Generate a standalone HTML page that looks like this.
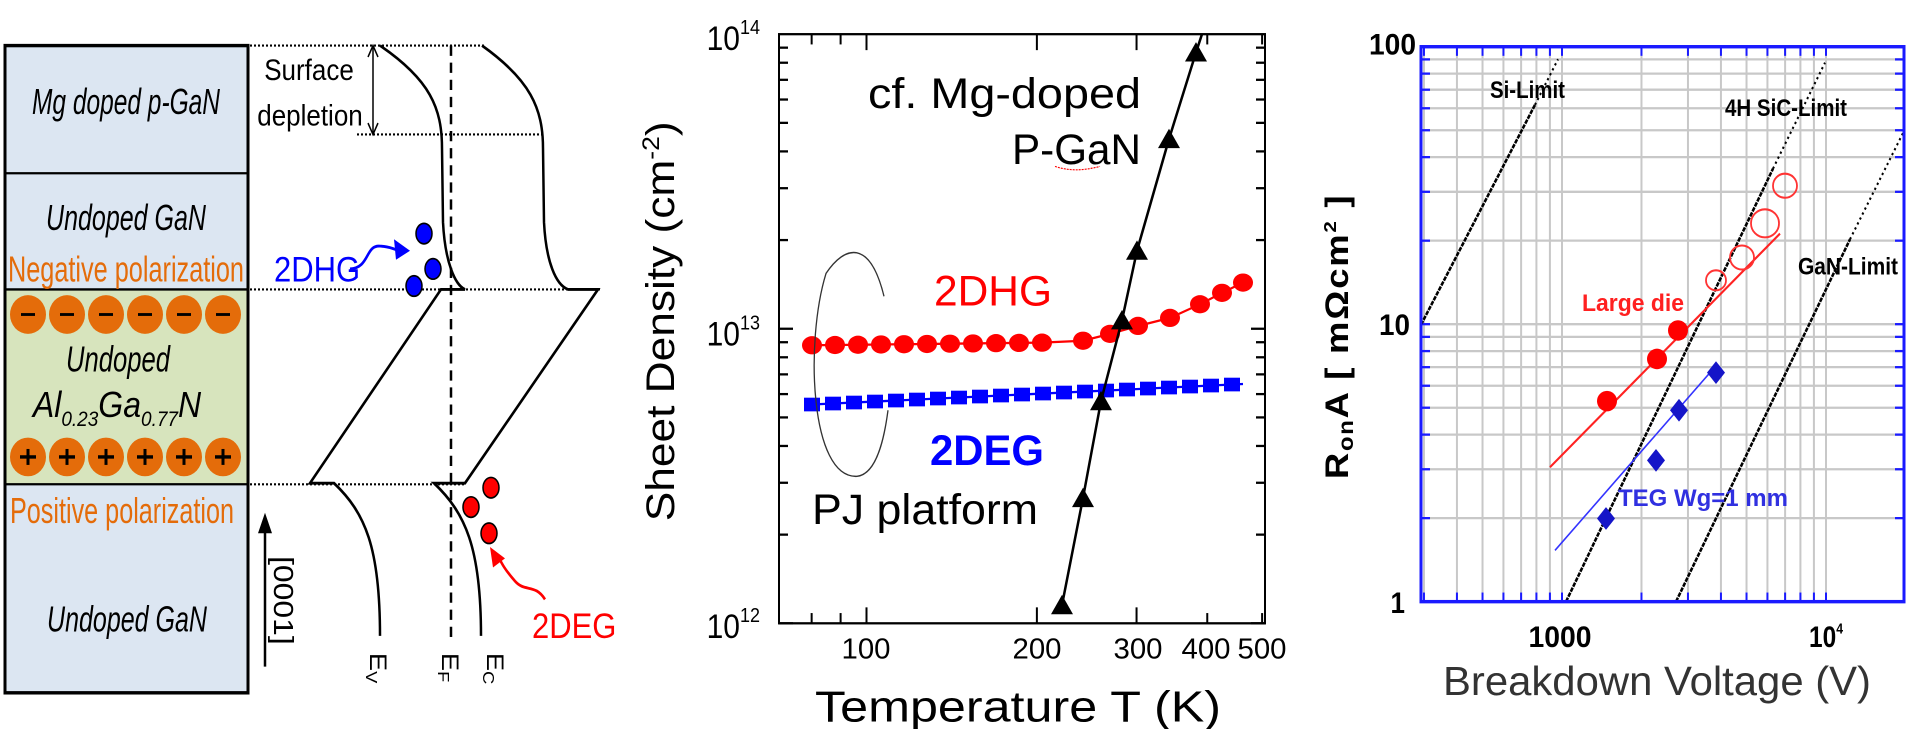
<!DOCTYPE html>
<html><head><meta charset="utf-8"><style>
html,body{margin:0;padding:0;background:#fff;}
svg{display:block;}
.n{font-family:"Liberation Sans Narrow","Liberation Sans",sans-serif;}
.s{font-family:"Liberation Sans","DejaVu Sans",sans-serif;}
</style></head><body>
<svg xmlns="http://www.w3.org/2000/svg" width="1919" height="729" viewBox="0 0 1919 729">
<g transform="scale(1,1.1395)">
<!-- Panel 1 -->
<rect x="5" y="40" width="243" height="112" fill="#dce6f2"/>
<rect x="5" y="152" width="243" height="102" fill="#dce6f2"/>
<rect x="5" y="254" width="243" height="171" fill="#d7e4bd"/>
<rect x="5" y="425" width="243" height="183" fill="#dce6f2"/>
<rect x="5" y="40" width="243" height="568" fill="none" stroke="#000" stroke-width="3"/>
<g stroke="#000" stroke-width="2"><line x1="5" y1="152" x2="248" y2="152"/><line x1="5" y1="254" x2="248" y2="254"/><line x1="5" y1="425" x2="248" y2="425"/></g>
<g class="n" font-style="italic" font-size="32" text-anchor="middle">
<text x="126" y="100" textLength="188" lengthAdjust="spacingAndGlyphs">Mg doped p-GaN</text>
<text x="126" y="202" textLength="160" lengthAdjust="spacingAndGlyphs">Undoped GaN</text>
<text x="118" y="326" textLength="104" lengthAdjust="spacingAndGlyphs">Undoped</text>
<text x="117" y="366">Al<tspan font-size="19" dy="8">0.23</tspan><tspan dy="-8">Ga</tspan><tspan font-size="19" dy="8">0.77</tspan><tspan dy="-8">N</tspan></text>
<text x="127" y="554" textLength="160" lengthAdjust="spacingAndGlyphs">Undoped GaN</text>
</g>
<g class="n" font-size="32" fill="#e46c0a">
<text x="8" y="247" textLength="236" lengthAdjust="spacingAndGlyphs">Negative polarization</text>
<text x="10" y="459" textLength="224" lengthAdjust="spacingAndGlyphs">Positive polarization</text>
</g>
<g id="circ"></g>
<g stroke="#000" stroke-width="1.8" stroke-dasharray="2,2" fill="none">
<line x1="250" y1="40" x2="485" y2="40"/><line x1="357" y1="118" x2="545" y2="118"/>
<line x1="250" y1="254" x2="600" y2="254"/><line x1="250" y1="425" x2="465" y2="425"/>
</g>
<line x1="451" y1="40" x2="451" y2="562" stroke="#000" stroke-width="2.5" stroke-dasharray="9,6"/>
<g stroke="#000" stroke-width="2.5" fill="none">
<path d="M380 40 C430 70 442 95 442 130 L443 195 C445 230 455 250 465 254 L441 254 L310 424 L334 424 C365 450 380 480 380 558"/>
<path d="M482 40 C530 70 543 95 543 130 L544 195 C546 230 556 250 568 254 L598 254 L465 424 L434 424 C465 450 481 480 481 558"/>
</g>
<path d="M373 40 L373 118" stroke="#000" stroke-width="1.5"/>
<path d="M368 50 L373 40 L378 50 M368 108 L373 118 L378 108" stroke="#000" stroke-width="1.5" fill="none"/>
<g class="n" font-size="26" text-anchor="middle"><text x="309" y="70">Surface</text><text x="310" y="110">depletion</text></g>
<g fill="#0000ff" stroke="#000" stroke-width="1.5"><ellipse cx="424" cy="205" rx="8" ry="9"/><ellipse cx="433" cy="236" rx="8" ry="9"/><ellipse cx="414" cy="251" rx="8" ry="9"/></g>
<g fill="#ff0000" stroke="#000" stroke-width="1.5"><ellipse cx="491" cy="428" rx="8" ry="9"/><ellipse cx="471" cy="445" rx="8" ry="9"/><ellipse cx="489" cy="468" rx="8" ry="9"/></g>
<text class="n" x="274" y="247" font-size="31" fill="#0000ff">2DHG</text>
<path d="M350 236 C370 235 365 215 380 216 C388 216 392 218 396 219" stroke="#0000ff" stroke-width="2.5" fill="none"/>
<path d="M394 210 L410 220 L396 228 Z" fill="#0000ff"/>
<text class="n" x="532" y="560" font-size="31" fill="#ff0000">2DEG</text>
<path d="M545 526 C535 512 525 520 515 510 C505 500 502 495 498 488" stroke="#ff0000" stroke-width="2.5" fill="none"/>
<path d="M490 480 L493 498 L505 490 Z" fill="#ff0000"/>
<line x1="265" y1="585" x2="265" y2="465" stroke="#000" stroke-width="2.5"/>
<path d="M258 468 L265 450 L272 468 Z" fill="#000"/>
<text class="n" font-size="28" transform="translate(274,488) rotate(90)">[0001]</text>
<g class="n" font-size="24"><text transform="translate(370,573) rotate(90)">E<tspan font-size="16" dy="4">V</tspan></text>
<text transform="translate(442,573) rotate(90)">E<tspan font-size="16" dy="4">F</tspan></text>
<text transform="translate(487,573) rotate(90)">E<tspan font-size="16" dy="4">C</tspan></text></g>

<!-- Panel 2 -->
<g id="p2"></g>
<rect x="779" y="30" width="486" height="517" fill="none" stroke="#000" stroke-width="2"/>
<g class="s" font-size="30" text-anchor="end"><text x="760" y="44">10<tspan font-size="18" dy="-14">14</tspan></text>
<text x="760" y="303">10<tspan font-size="18" dy="-14">13</tspan></text>
<text x="760" y="560">10<tspan font-size="18" dy="-14">12</tspan></text></g>
<g class="s" font-size="25" text-anchor="middle" lengthAdjust="spacingAndGlyphs"><text x="866" y="578" textLength="49" lengthAdjust="spacingAndGlyphs">100</text><text x="1037" y="578" textLength="49" lengthAdjust="spacingAndGlyphs">200</text><text x="1138" y="578" textLength="49" lengthAdjust="spacingAndGlyphs">300</text><text x="1206" y="578" textLength="49" lengthAdjust="spacingAndGlyphs">400</text><text x="1262" y="578" textLength="49" lengthAdjust="spacingAndGlyphs">500</text></g>
<text class="s" x="1018" y="633" font-size="38" text-anchor="middle" textLength="406" lengthAdjust="spacingAndGlyphs">Temperature T (K)</text>
<text class="s" font-size="40" text-anchor="middle" textLength="351" lengthAdjust="spacingAndGlyphs" transform="translate(674,282) rotate(-90)">Sheet Density (cm<tspan font-size="24" dy="-15">-2</tspan><tspan dy="15">)</tspan></text>
<g class="s" font-size="37"><text x="868" y="95" textLength="273" lengthAdjust="spacingAndGlyphs">cf. Mg-doped</text><text x="1012" y="144" textLength="129" lengthAdjust="spacingAndGlyphs">P-GaN</text>
<text x="934" y="268" fill="#ff0000" textLength="118" lengthAdjust="spacingAndGlyphs">2DHG</text><text x="930" y="408" fill="#0000ff" font-weight="bold" textLength="114" lengthAdjust="spacingAndGlyphs">2DEG</text>
<text x="812" y="460" textLength="226" lengthAdjust="spacingAndGlyphs">PJ platform</text></g>
<path d="M1055 146 q20 6 45 0" stroke="#f00" stroke-width="1" fill="none" stroke-dasharray="2,1"/>
<path d="M884 260 C870 210 845 215 826 240 C805 300 810 420 857 418 C878 416 885 380 888 360" stroke="#333" stroke-width="1.3" fill="none"/>

<!-- Panel 3 -->
<g id="p3"></g>
<rect x="1421" y="41" width="483" height="487" fill="none" stroke="#1a1aff" stroke-width="3"/>
<g class="s" font-size="26" font-weight="bold" text-anchor="end"><text x="1416" y="48" textLength="47" lengthAdjust="spacingAndGlyphs">100</text><text x="1410" y="294" textLength="31" lengthAdjust="spacingAndGlyphs">10</text><text x="1405" y="538">1</text></g>
<g class="s" font-size="26" font-weight="bold" text-anchor="middle"><text x="1560" y="568" textLength="63" lengthAdjust="spacingAndGlyphs">1000</text><text x="1826" y="568" textLength="34" lengthAdjust="spacingAndGlyphs">10<tspan font-size="13" dy="-12">4</tspan></text></g>
<text class="s" x="1657" y="610" font-size="36" text-anchor="middle" fill="#333" textLength="428" lengthAdjust="spacingAndGlyphs">Breakdown Voltage (V)</text>
<text class="s" font-size="32" font-weight="bold" text-anchor="middle" textLength="249" transform="translate(1348,296) rotate(-90)">R<tspan font-size="21" dy="5">on</tspan><tspan dy="-5">A [ mΩcm</tspan><tspan font-size="18" dy="-12">2</tspan><tspan dy="12"> ]</tspan></text>
<g class="s" font-size="21" font-weight="bold"><text x="1490" y="86" textLength="75" lengthAdjust="spacingAndGlyphs">Si-Limit</text><text x="1725" y="102" textLength="122" lengthAdjust="spacingAndGlyphs">4H SiC-Limit</text><text x="1798" y="241" textLength="100" lengthAdjust="spacingAndGlyphs">GaN-Limit</text>
<text x="1582" y="273" fill="#ff2020" textLength="102" lengthAdjust="spacingAndGlyphs">Large die</text><text x="1618" y="444" fill="#3030e0" textLength="170" lengthAdjust="spacingAndGlyphs">TEG Wg=1 mm</text></g>
</g>
</svg>
<script>
const NS="http://www.w3.org/2000/svg";
function el(p,t,a){const e=document.createElementNS(NS,t);for(const k in a)e.setAttribute(k,a[k]);document.getElementById(p).appendChild(e);return e;}
[28,67,106,145,184,223].forEach(x=>{
 el('circ','ellipse',{cx:x,cy:276,rx:18,ry:17,fill:'#e46c0a'});
 el('circ','line',{x1:x-7,y1:276,x2:x+7,y2:276,stroke:'#000','stroke-width':2.5});
 el('circ','ellipse',{cx:x,cy:401,rx:18,ry:17,fill:'#e46c0a'});
 el('circ','line',{x1:x-8,y1:401,x2:x+8,y2:401,stroke:'#000','stroke-width':3});
 el('circ','line',{x1:x,y1:394,x2:x,y2:408,stroke:'#000','stroke-width':3});
});
const X2=T=>866.5+Math.log10(T/100)*566, Y2=v=>547-(Math.log10(v)-12)*258.5;
for(let d=12;d<14;d++)for(let m=1;m<10;m++){const y=Y2(m*Math.pow(10,d));if(y<30||y>547)continue;const L=m==1?14:9;
 el('p2','line',{x1:779,y1:y,x2:779+L,y2:y,stroke:'#000','stroke-width':2});el('p2','line',{x1:1265,y1:y,x2:1265-L,y2:y,stroke:'#000','stroke-width':2});}
[80,90,100,200,300,400,500].forEach(T=>{const x=X2(T);if(x>1264)return;const L=(T==100||T==200||T==300)?14:9;
 el('p2','line',{x1:x,y1:547,x2:x,y2:547-L,stroke:'#000','stroke-width':2});el('p2','line',{x1:x,y1:30,x2:x,y2:30+L,stroke:'#000','stroke-width':2});});
let hx=[],hy=[];
for(let x=812;x<=1060;x+=23){hx.push(x);hy.push(303-(x-812)*0.01);}
[[1083,299],[1110,293],[1138,286],[1170,279],[1200,267],[1222,257],[1243,248]].forEach(p=>{hx.push(p[0]);hy.push(p[1]);});
el('p2','polyline',{points:hx.map((x,i)=>x+','+hy[i]).join(' '),fill:'none',stroke:'#f00','stroke-width':2});
hx.forEach((x,i)=>el('p2','ellipse',{cx:x,cy:hy[i],rx:10,ry:8,fill:'#f00'}));
let ex=[];for(let x=812;x<=1243;x+=21)ex.push(x);
el('p2','line',{x1:812,y1:355,x2:1243,y2:337,stroke:'#00f','stroke-width':2});
ex.forEach(x=>{const y=355-(x-812)/431*18;el('p2','rect',{x:x-8,y:y-6,width:16,height:12,fill:'#00f'});});
const tr=[[1062,531],[1083,437],[1101,352],[1122,281],[1137,220],[1169,122],[1196,46]];
el('p2','polyline',{points:tr.map(p=>p.join(',')).join(' ')+' 1202,30',fill:'none',stroke:'#000','stroke-width':2.5});
tr.forEach(p=>el('p2','path',{d:`M${p[0]-11} ${p[1]+8} L${p[0]} ${p[1]-9} L${p[0]+11} ${p[1]+8} Z`,fill:'#000'}));
const X3=v=>1562+(Math.log10(v)-3)*264, Y3=r=>528-Math.log10(r)*243.5;
for(let d=2;d<5;d++)for(let m=1;m<10;m++){const v=m*Math.pow(10,d),x=X3(v);if(x<=1422||x>=1903)continue;
 el('p3','line',{x1:x,y1:41,x2:x,y2:528,stroke:'#c8c8c8','stroke-width':2});
 el('p3','line',{x1:x,y1:528,x2:x,y2:520,stroke:'#1a1aff','stroke-width':2});el('p3','line',{x1:x,y1:41,x2:x,y2:49,stroke:'#1a1aff','stroke-width':2});}
for(let d=0;d<2;d++)for(let m=1;m<10;m++){const y=Y3(m*Math.pow(10,d));if(y>=527||y<=42)continue;
 el('p3','line',{x1:1421,y1:y,x2:1904,y2:y,stroke:'#c8c8c8','stroke-width':2});
 el('p3','line',{x1:1421,y1:y,x2:1430,y2:y,stroke:'#1a1aff','stroke-width':2});el('p3','line',{x1:1904,y1:y,x2:1895,y2:y,stroke:'#1a1aff','stroke-width':2});}
[[1421,285,1535,92,1558,52],[1566,528,1773,148,1825,55],[1676,528,1850,210,1904,115]].forEach(a=>{
 el('p3','line',{x1:a[0],y1:a[1],x2:a[2],y2:a[3],stroke:'#000','stroke-width':2.5,'stroke-dasharray':'4,1'});
 el('p3','line',{x1:a[2],y1:a[3],x2:a[4],y2:a[5],stroke:'#000','stroke-width':2,'stroke-dasharray':'2,3'});});
el('p3','line',{x1:1550,y1:410,x2:1780,y2:205,stroke:'#f22','stroke-width':2});
el('p3','line',{x1:1555,y1:483,x2:1712,y2:325,stroke:'#33f','stroke-width':1.5});
[[1607,352],[1657,315],[1678,290]].forEach(p=>el('p3','ellipse',{cx:p[0],cy:p[1],rx:10,ry:9,fill:'#f00'}));
[[1716,246,10],[1742,226,12],[1765,196,14],[1785,163,12]].forEach(p=>el('p3','ellipse',{cx:p[0],cy:p[1],rx:p[2],ry:p[2]*0.88,fill:'none',stroke:'#f33','stroke-width':1.8}));
[[1606,455],[1656,404],[1679,360],[1716,327]].forEach(p=>el('p3','path',{d:`M${p[0]} ${p[1]-10} L${p[0]+9} ${p[1]} L${p[0]} ${p[1]+10} L${p[0]-9} ${p[1]} Z`,fill:'#1515c8'}));
</script>
</body></html>
